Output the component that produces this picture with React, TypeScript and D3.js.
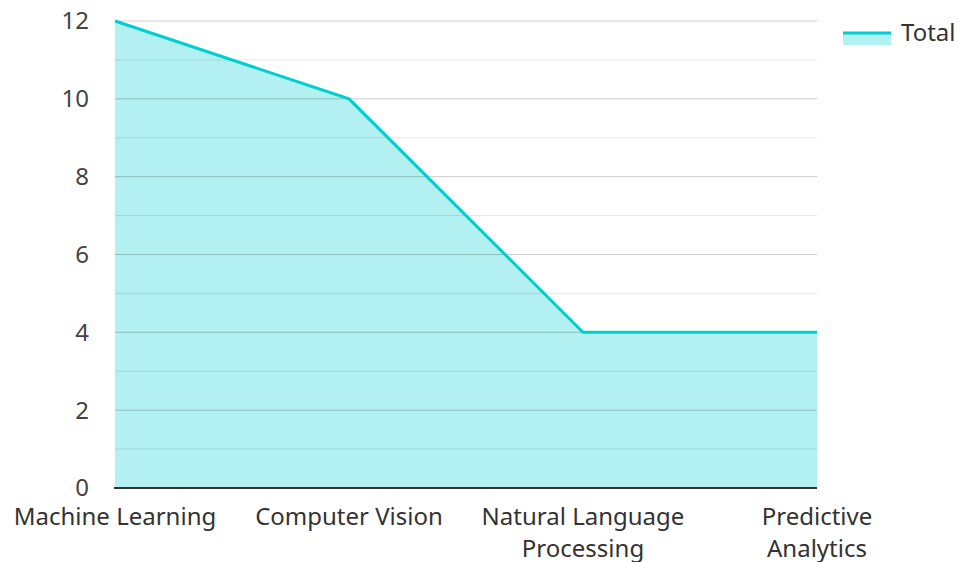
import React from 'react';
import * as d3 from 'd3';

const categories = ['Machine Learning', 'Computer Vision', 'Natural Language Processing', 'Predictive Analytics'];
const categoryLines = [['Machine Learning'], ['Computer Vision'], ['Natural Language', 'Processing'], ['Predictive', 'Analytics']];
const totals = [12, 10, 4, 4];
const yTicks = [0, 2, 4, 6, 8, 10, 12];
const seriesName = 'Total';

const App = () => {
    const width = 959, height = 562;
    const margin = { top: 21, right: 142, bottom: 74, left: 115 };
    const w = width - margin.left - margin.right;
    const h = height - margin.top - margin.bottom;

    const x = d3.scalePoint<string>().domain(categories).range([0, w]);
    const y = d3.scaleLinear().domain([0, 12]).range([h, 0]);

    const data = categories.map((c, i) => ({ c, v: totals[i] }));
    const line = d3.line<{ c: string; v: number }>().x(d => x(d.c)!).y(d => y(d.v));
    const area = d3.area<{ c: string; v: number }>().x(d => x(d.c)!).y0(h).y1(d => y(d.v));

    const minor = d3.range(1, 12, 2);
    const font = '"Noto Sans", "Open Sans", sans-serif';

    return (
        <svg width={width} height={height} style={{ position: 'absolute', left: 0, top: 0 }} fontFamily={font}>
            <g transform={`translate(${margin.left},${margin.top})`}>
                <path d={area(data)!} fill="rgba(0,206,209,0.3)" />
                {minor.map(t => (
                    <line key={'m' + t} x1={0} x2={w} y1={y(t)} y2={y(t)} stroke="rgba(0,0,0,0.1)" strokeWidth={1} />
                ))}
                {yTicks.filter(t => t > 0).map(t => (
                    <line key={'g' + t} x1={0} x2={w} y1={y(t)} y2={y(t)} stroke="rgba(0,0,0,0.2)" strokeWidth={1} />
                ))}
                <path d={line(data)!} fill="none" stroke="#00CED1" strokeWidth={3} strokeLinejoin="miter" />
                <line x1={-1} x2={w} y1={h} y2={h} stroke="#333" strokeWidth={2} />
                {yTicks.map(t => (
                    <text key={t} x={-26} y={y(t)} dy="0.35em" textAnchor="end" fontSize={24} fill="#444">{t}</text>
                ))}
                {categories.map((c, i) => (
                    <text key={c} x={x(c)} y={h + 37} textAnchor="middle" fontSize={24} fill="#333">
                        {categoryLines[i].map((l, j) => (
                            <tspan key={j} x={x(c)} dy={j === 0 ? 0 : 32}>{l}</tspan>
                        ))}
                    </text>
                ))}
            </g>
            <g transform="translate(843,33)">
                <rect x={0} y={0} width={48} height={12} fill="rgba(0,206,209,0.3)" />
                <line x1={0} x2={48} y1={0} y2={0} stroke="#00CED1" strokeWidth={3} />
                <text x={58} y={8} fontSize={24} fill="#333">{seriesName}</text>
            </g>
        </svg>
    );
};

export default App;
